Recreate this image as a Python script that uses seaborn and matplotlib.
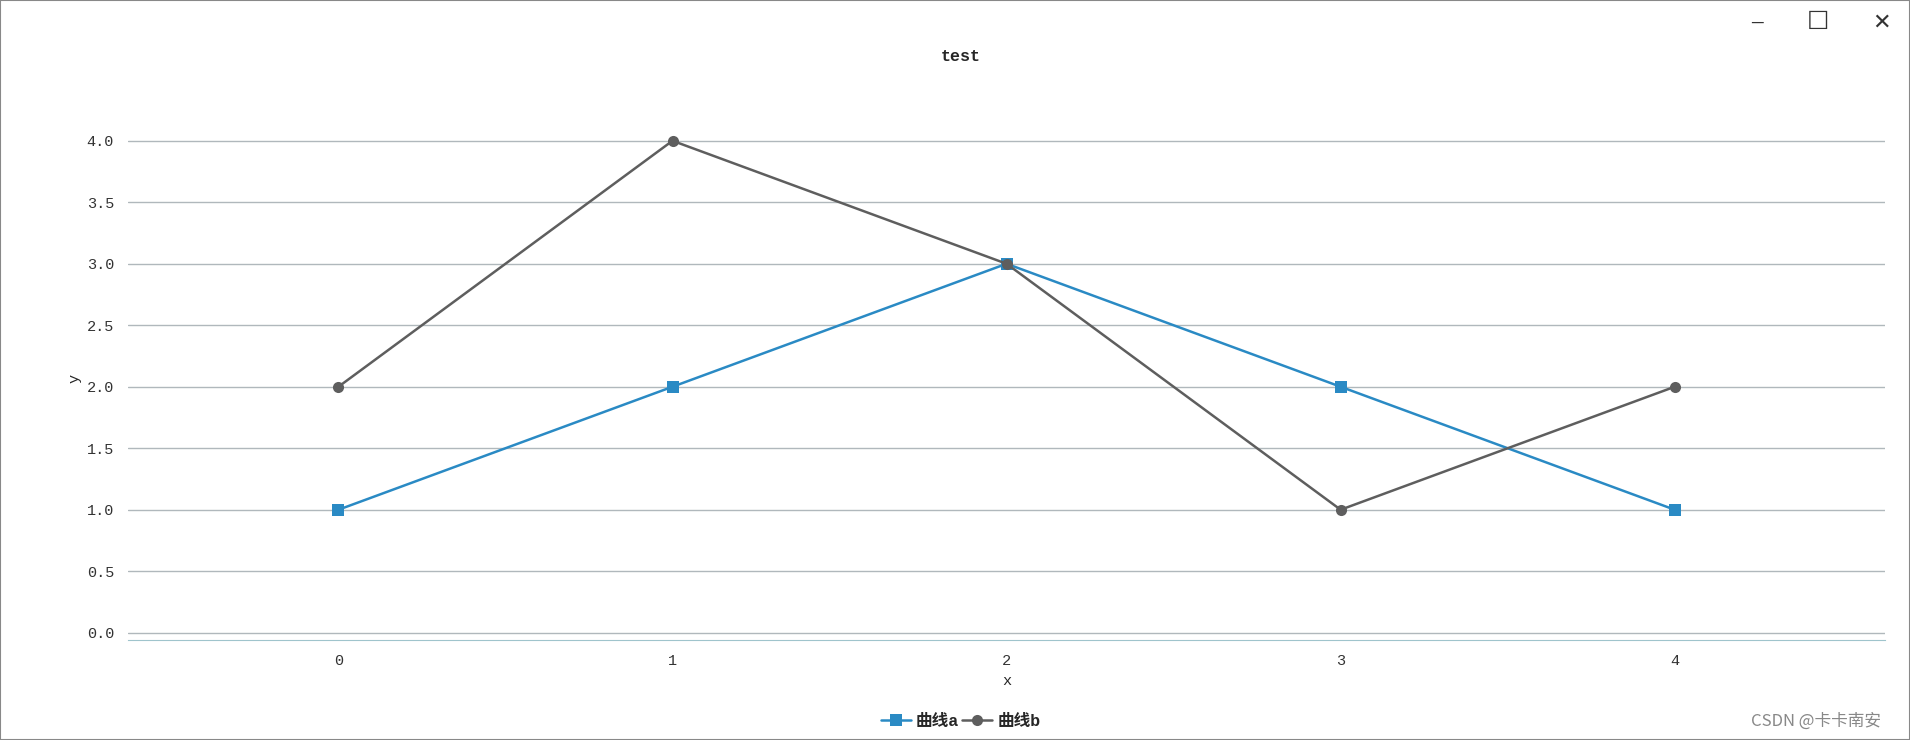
import matplotlib
matplotlib.use("Agg")
import matplotlib.pyplot as plt
import seaborn as sns
import pandas as pd

x = [0, 1, 2, 3, 4]
a = [1, 2, 3, 2, 1]
b = [2, 4, 3, 1, 2]
names = ["曲线a", "曲线b"]
yticks = [0.0, 0.5, 1.0, 1.5, 2.0, 2.5, 3.0, 3.5, 4.0]

sns.set_style("white")
plt.rcParams['font.family'] = ['Liberation Mono', 'Noto Sans CJK SC', 'DejaVu Sans']

df = pd.DataFrame({"x": x * 2, "y": a + b, "s": [names[0]] * 5 + [names[1]] * 5})
fig = plt.figure(figsize=(19.1, 7.4), dpi=100)
ax = fig.add_axes([0.067, 0.135, 0.92, 0.708])
pal = {names[0]: "#2a8ac4", names[1]: "#5e5e5e"}
sns.lineplot(data=df, x="x", y="y", hue="s", style="s", markers={names[0]: "s", names[1]: "o"},
             dashes=False, palette=pal, markersize=8, markeredgewidth=0, linewidth=1.8,
             ax=ax, legend=True)
ax.set_xlim(-0.63, 4.63)
ax.set_ylim(-0.06, 4.2)
ax.set_yticks(yticks)
ax.set_yticklabels([f"{v:.1f}" for v in yticks])
ax.set_xticks(x)
ax.yaxis.grid(True, color="#b0b8bc", linewidth=1)
for s in ["top", "right", "left"]:
    ax.spines[s].set_visible(False)
ax.spines["bottom"].set_color("#9fc4cc")
ax.tick_params(axis="both", labelsize=11, colors="#333333", length=0, pad=10)
ax.set_xlabel("x", fontsize=11)
ax.set_ylabel("y", fontsize=11)
fig.text(0.503, 0.924, "test", fontsize=12, fontweight="bold", ha="center", va="center")
h, l = ax.get_legend_handles_labels()
ax.get_legend().remove()
fig.legend(h, l, loc="center", bbox_to_anchor=(0.503, 0.025), ncol=2, frameon=False,
           prop={"size": 12, "weight": "bold"}, handlelength=1.8, columnspacing=0.2,
           handletextpad=0.3)
fig.text(0.985, 0.025, "CSDN @卡卡南安", ha="right", va="center", fontsize=12, color="#888888",
         family=['Noto Sans CJK SC', 'DejaVu Sans'])
fig.text(0.92, 0.97, "—", fontsize=14, color="#333333", ha="center", va="center")
fig.text(0.952, 0.97, "☐", fontsize=18, color="#333333", ha="center", va="center", family="DejaVu Sans")
fig.text(0.985, 0.97, "✕", fontsize=16, color="#333333", ha="center", va="center", family="DejaVu Sans")
fig.patches.append(plt.Rectangle((0, 0), 1, 1, transform=fig.transFigure, fill=False,
                                 edgecolor="#888888", linewidth=1.5))
fig.savefig("out.png", dpi=100)
